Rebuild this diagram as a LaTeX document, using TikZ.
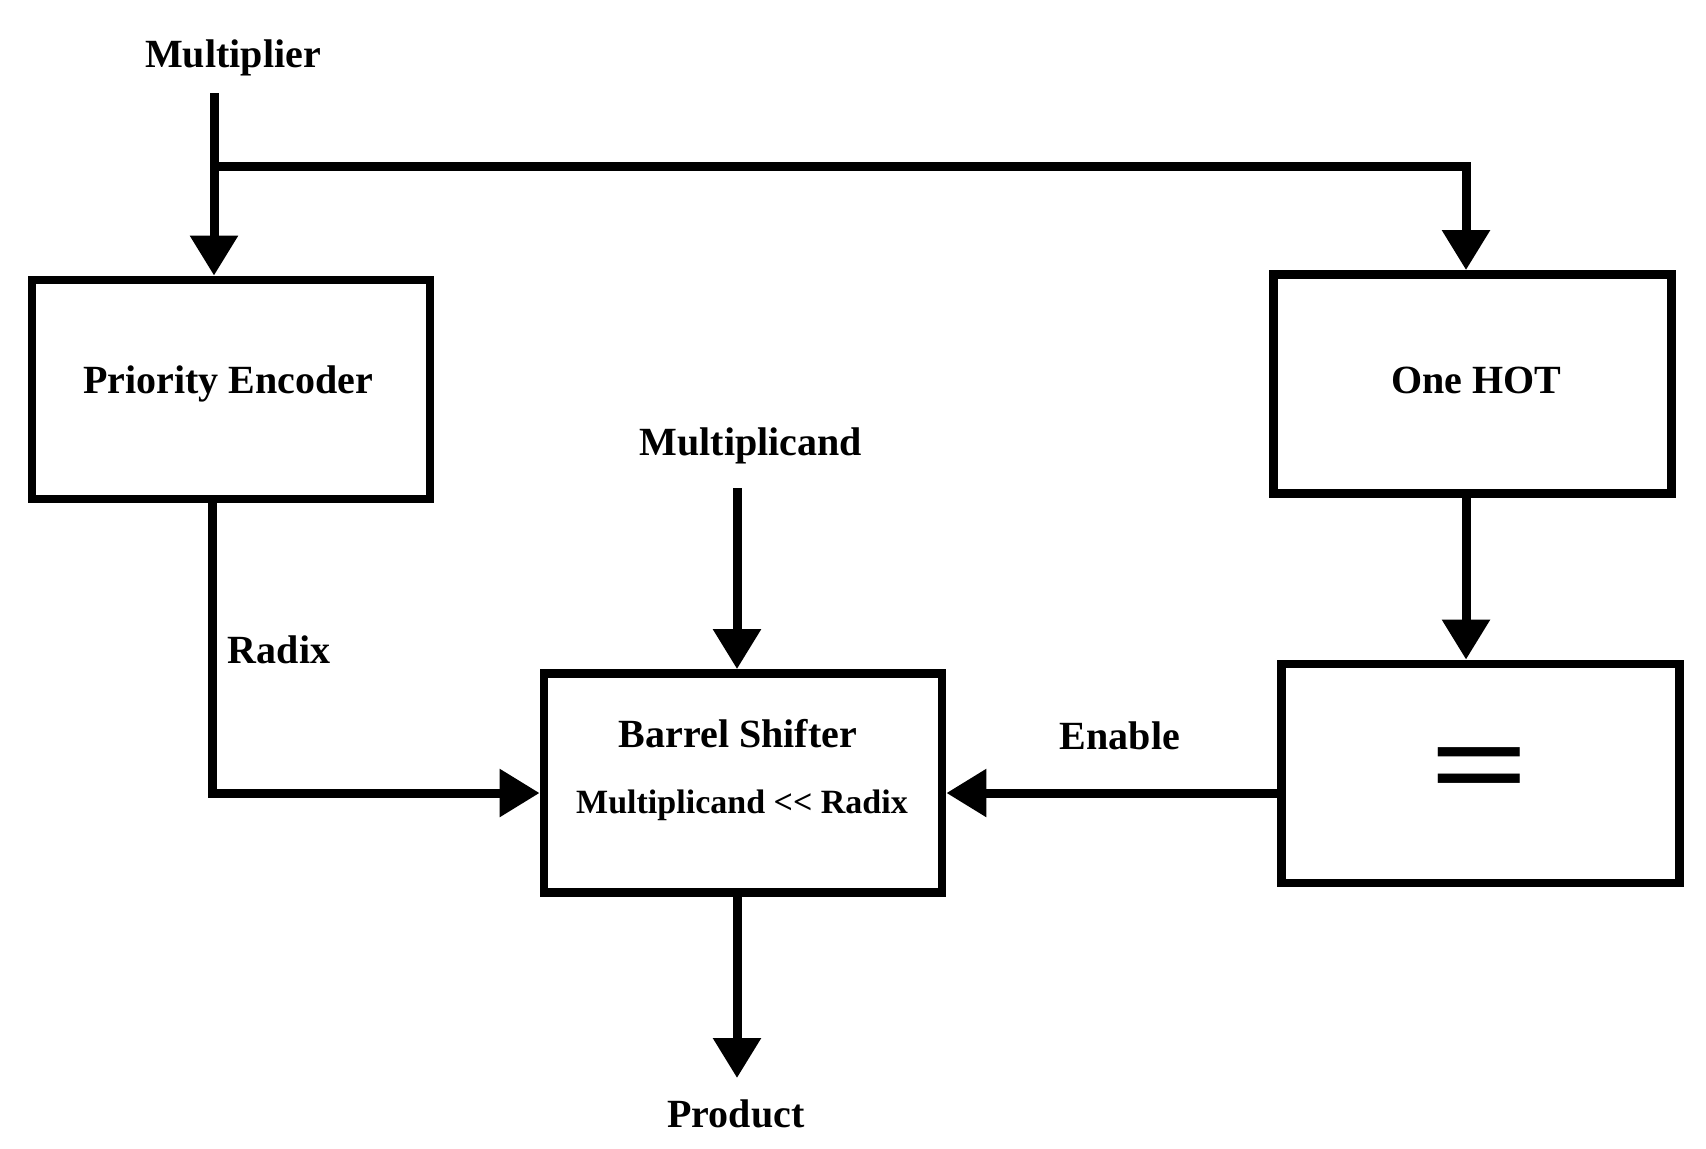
\documentclass[tikz,border=0pt]{standalone}
\usepackage{fontspec}
\usepackage{graphicx}
\setmainfont{Liberation Serif}
\usetikzlibrary{arrows.meta}
\begin{document}
\begin{tikzpicture}[x=0.5pt,y=-0.5pt,
  box/.style={draw=black,line width=4.4pt,fill=white,minimum width=199pt,minimum height=109.5pt,inner sep=0pt},
  txt/.style={font=\bfseries\fontsize{20}{24}\selectfont,inner sep=0pt,anchor=base},
  subtxt/.style={font=\bfseries\fontsize{17}{20}\selectfont,inner sep=0pt,anchor=base},
  arr/.style={line width=4.5pt,-{Triangle[width=23pt,length=20pt]}},
  wire/.style={line width=4.5pt}]
\useasboundingbox (0,0) rectangle (1706,1148);

% boxes
\node[box] (pe) at (231,389.5) {};
\node[box] (oh) at (1472.5,384) {};
\node[box] (eq) at (1480.5,773.5) {};
\node[box] (bs) at (743,783) {};

% box texts
\node[txt] (pet) at (228,393) {Priority Encoder};
\node[txt] (oht) at (1476,393) {One HOT};
\node[inner sep=0pt,font=\bfseries\fontsize{78}{80}\selectfont] (eqt) at (1480,778.5) {\scalebox{1.13}[0.85]{=}};
\node[txt] (bst) at (738,747) {Barrel Shifter};
\node[subtxt] (bss) at (742,813) {Multiplicand {<}{<} Radix};

% free labels
\node[txt] (multiplier) at (233,67) {Multiplier};
\node[txt] (multiplicand) at (751,455) {Multiplicand};
\node[txt] (product) at (736,1127) {Product};
\node[txt] (radix) at (279,663) {Radix};
\node[txt] (enable) at (1120,749) {Enable};

% coordinates
\coordinate (m0) at (214,93);
\coordinate (br) at (214,166);
\coordinate (bk) at (1466,166);
\coordinate (mc) at (737,488);
\coordinate (rx) at (212,793);
\coordinate (pr) at (737,1078);

% connectors
\draw[arr] (m0) -- (m0 |- pe.north);
\draw[arr] (br) -- (bk) -- (bk |- oh.north);
\draw[arr] (oh.south -| bk) -- (bk |- eq.north);
\draw[arr] (mc) -- (mc |- bs.north);
\draw[arr] (pe.south -| rx) -- (rx) -- (rx -| bs.west);
\draw[arr] (eq.west |- rx) -- (bs.east |- rx);
\draw[arr] (bs.south -| mc) -- (pr);
\end{tikzpicture}
\end{document}
